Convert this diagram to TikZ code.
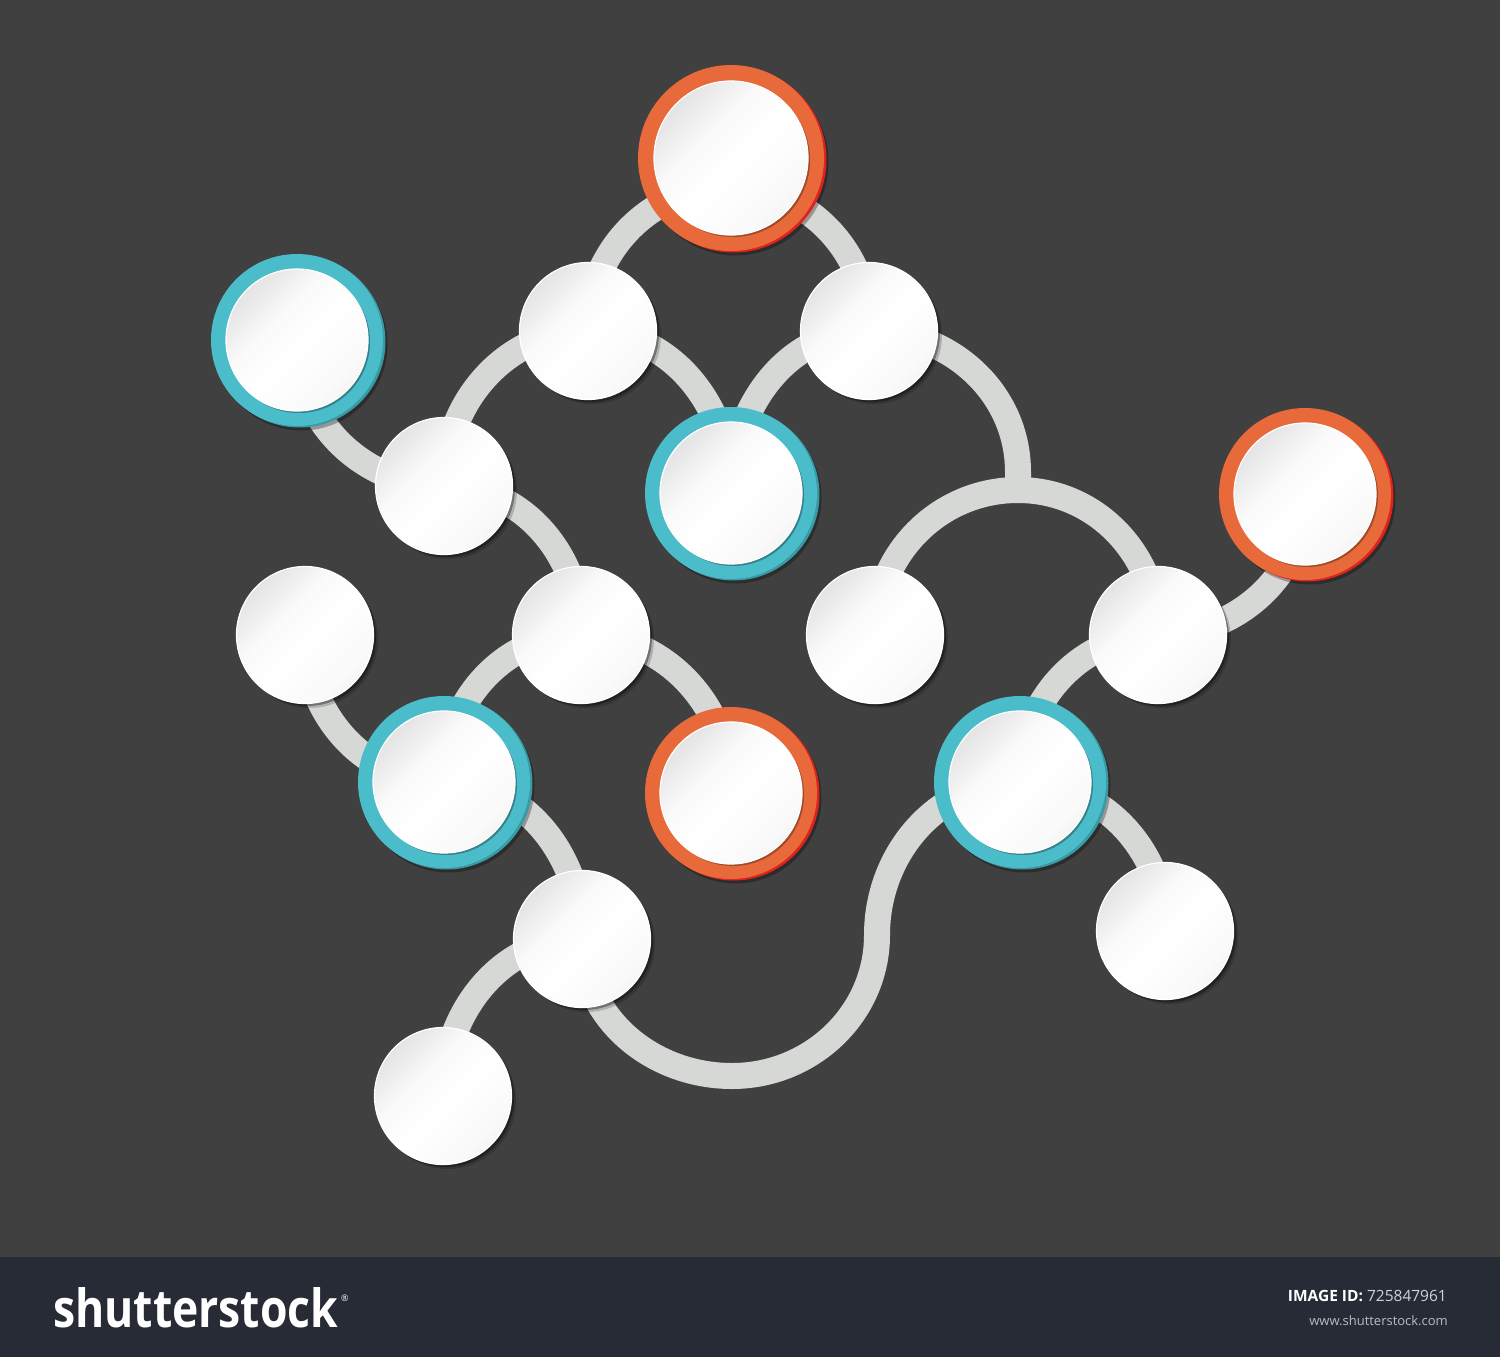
\documentclass[tikz,border=0pt]{standalone}
\usepackage{fontspec}
\setmainfont{Open Sans}
\usepackage{graphicx}
\pgfdeclarelayer{bgl}
\pgfdeclarelayer{paths}
\pgfsetlayers{bgl,paths,main}
\definecolor{bgc}{HTML}{404040}
\definecolor{bannerc}{HTML}{272B35}
\definecolor{pathc}{HTML}{D6D8D5}
\definecolor{orngc}{HTML}{E8693A}
\definecolor{orngsh}{HTML}{E0221C}
\definecolor{tealc}{HTML}{4BBCC9}
\definecolor{tealsh}{HTML}{389AA4}
\definecolor{idgrey}{HTML}{D0D2D6}
\definecolor{urlgrey}{HTML}{B8BCC4}
\pgfdeclareverticalshading{discshade}{100bp}{%
  color(0bp)=(white!90!black); color(16bp)=(white!93!black); color(30bp)=(white!98!black);
  color(48bp)=(white); color(60bp)=(white!98!black); color(72bp)=(white!91!black);
  color(85bp)=(white!84!black); color(100bp)=(white!80!black)}
\tikzset{
  conn/.style={draw=pathc, line width=26pt, line cap=butt},
  disc/.style={circle, inner sep=0pt, minimum size=137pt,
    preaction={fill=black, fill opacity=0.18, transform canvas={shift={(4.5pt,-4.5pt)}}},
    preaction={fill=black, fill opacity=0.35, transform canvas={shift={(2.5pt,-2.5pt)}}},
    shading=discshade, shading angle=45,
    draw=white, line width=1.2pt},
  ringnode/.style n args={4}{circle, inner sep=0pt, minimum size=#3, fill=#1,
    preaction={fill=black, fill opacity=0.3, transform canvas={shift={(4.5pt,-4.5pt)}}},
    preaction={fill=#2, transform canvas={shift={(2.5pt,-1.5pt)}}},
    path picture={
      \fill[black, fill opacity=0.3] ([shift={(2pt,-2pt)}]path picture bounding box.center) circle[radius=#4];
      \shadedraw[shading=discshade, shading angle=45, draw=white, line width=1.2pt]
        (path picture bounding box.center) circle[radius=#4];
    }},
  orangering/.style={ringnode={orngc}{orngsh}{172pt}{71pt}},
  tealring/.style={ringnode={tealc}{tealsh}{172pt}{71pt}},
}
\begin{document}
\begin{tikzpicture}[x=1pt,y=1pt]
\useasboundingbox (0,0) rectangle (1500,-1357);
\begin{pgfonlayer}{bgl}
  \fill[bgc] (0,0) rectangle (1500,-1257);
  \fill[bannerc] (0,-1257) rectangle (1500,-1357);
\end{pgfonlayer}

% circles
\node[ringnode={orngc}{orngsh}{186pt}{77pt}] (o1) at (731,-158) {};
\node[tealring] (t2) at (297,-340) {};
\node[disc] (c3) at (588,-331) {};
\node[disc] (c4) at (869,-331) {};
\node[disc] (c5) at (444,-486) {};
\node[tealring] (t6) at (731,-493) {};
\node[orangering] (o7) at (1305,-494) {};
\node[disc] (c8) at (305,-635) {};
\node[disc] (c9) at (581,-635) {};
\node[disc] (c10) at (875,-635) {};
\node[disc] (c11) at (1158,-635) {};
\node[tealring] (t12) at (444,-782) {};
\node[orangering] (o13) at (731,-793) {};
\node[tealring] (t14) at (1020,-782) {};
\node[disc] (c15) at (582,-939) {};
\node[disc] (c16) at (1165,-931) {};
\node[disc] (c17) at (443,-1096) {};

\coordinate (j1) at (729,-187);
\coordinate (j2a) at (1018,-472);
\coordinate (j2) at (1018,-490);
\coordinate (s1) at (732,-1076);
\coordinate (s2) at (877,-935);

\begin{pgfonlayer}{paths}
  \draw[conn] (c3.center) to[out=90,in=180] (j1) to[out=0,in=90] (c4.center);
  \draw[conn] (c3.center) to[out=0,in=90] (t6.center);
  \draw[conn] (c4.center) to[out=180,in=90] (t6.center);
  \draw[conn] (c4.center) to[out=0,in=90] (j2a) -- (j2);
  \draw[conn] (c10.center) to[out=90,in=180] (j2) to[out=0,in=90] (c11.center);
  \draw[conn] (t2.center) to[out=-90,in=180] (c5.center);
  \draw[conn] (c5.center) to[out=90,in=180] (c3.center);
  \draw[conn] (c5.center) to[out=0,in=90] (c9.center);
  \draw[conn] (c8.center) to[out=-90,in=180] (t12.center);
  \draw[conn] (t12.center) to[out=90,in=180] (c9.center);
  \draw[conn] (c9.center) to[out=0,in=90] (o13.center);
  \draw[conn] (t12.center) to[out=0,in=90] (c15.center);
  \draw[conn] (c15.center) to[out=180,in=90] (c17.center);
  \draw[conn] (c15.center) to[out=-90,in=180] (s1) to[out=0,in=-90] (s2) to[out=90,in=180] (t14.center);
  \draw[conn] (t14.center) to[out=90,in=180] (c11.center);
  \draw[conn] (t14.center) to[out=0,in=90] (c16.center);
  \draw[conn] (c11.center) to[out=0,in=-90] (o7.center);
\end{pgfonlayer}

% banner texts
\node[anchor=base west, inner sep=0pt, text=white, font=\bfseries] (logo) at (53,-1327)
  {\resizebox{285pt}{40pt}{shutterstock}};
\node[anchor=base west, inner sep=0pt, text=white, font=\fontsize{9}{9}\selectfont] (reg) at (341,-1301) {®};
\node[anchor=base east, inner sep=0pt, text=idgrey, font=\fontsize{15.5}{16}\selectfont] (imgid) at (1447,-1301)
  {\textcolor{white}{\textbf{IMAGE ID:}} 725847961};
\node[anchor=base east, inner sep=0pt, text=urlgrey, font=\fontsize{13}{14}\selectfont] (url) at (1448,-1325)
  {www.shutterstock.com};
\end{tikzpicture}
\end{document}
